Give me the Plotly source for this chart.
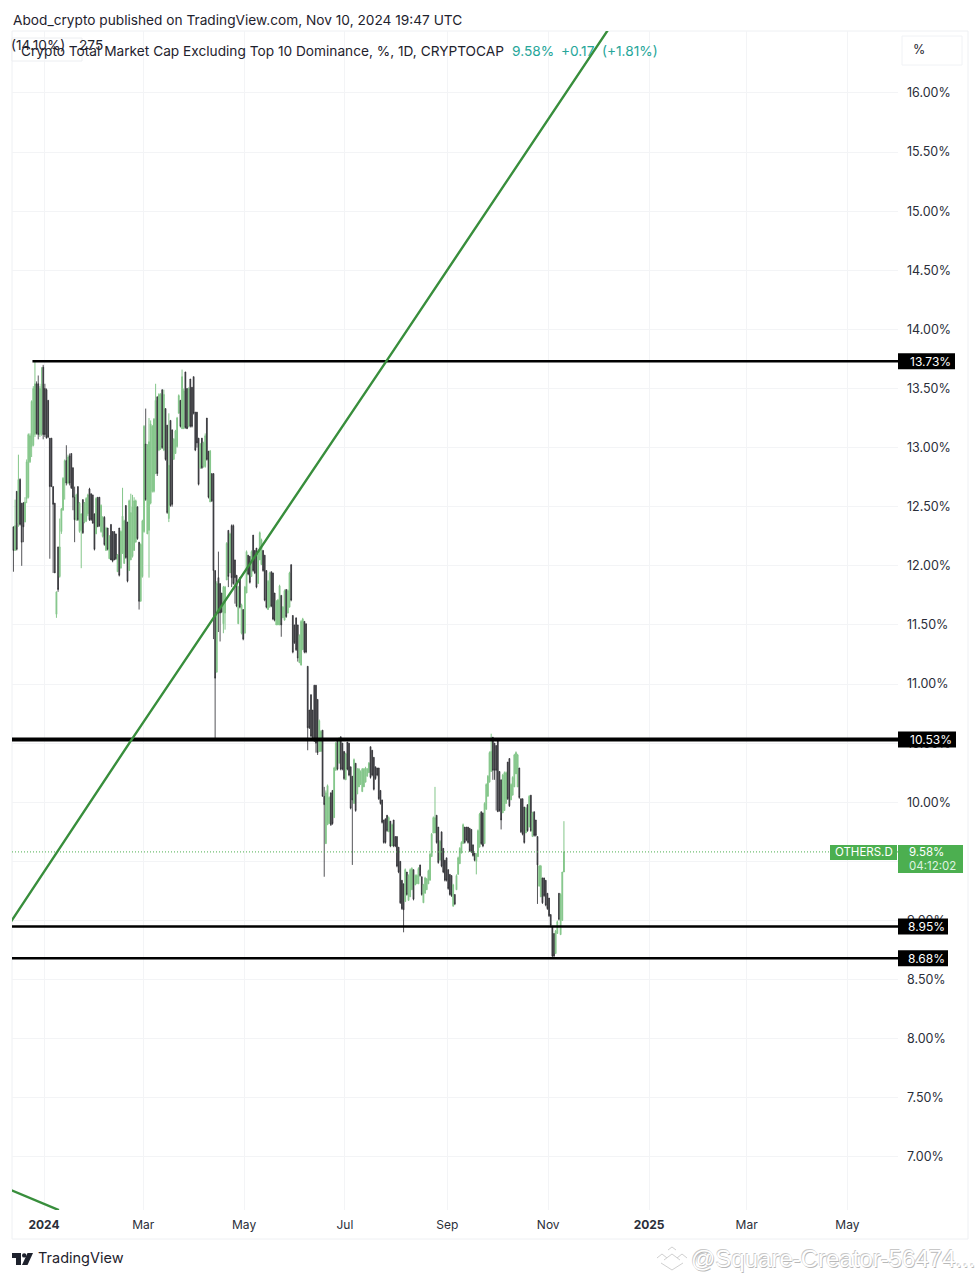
import pandas as pd
import plotly.graph_objects as go

# Daily OTHERS.D candles (percent), one value per day from first_day onwards
first_day = "2023-12-13 12:00"

opens = [
    12.33,12.13,12.63,12.36,12.73,12.53,12.53,12.37,12.57,12.58,
    12.88,13.01,13.02,13.11,13.54,13.54,13.11,13.12,13.68,13.50,
    13.49,13.40,13.08,13.08,12.67,12.53,11.59,12.16,11.91,12.29,
    12.47,12.70,12.89,12.70,12.93,12.95,12.83,12.58,12.39,12.67,
    12.29,12.30,12.56,12.37,12.38,12.44,12.65,12.61,12.60,12.44,
    12.27,12.58,12.58,12.29,12.25,12.41,12.13,12.32,12.06,12.35,
    12.29,12.29,12.27,11.95,12.32,11.98,12.11,12.02,12.51,12.37,
    11.96,12.05,12.08,12.13,12.20,12.50,12.20,11.70,11.91,12.29,
    13.03,12.27,12.30,12.53,12.63,12.63,12.78,13.43,12.98,12.99,
    13.49,12.98,13.33,13.19,12.40,13.23,13.15,12.90,12.95,13.01,
    13.29,13.40,13.16,13.16,13.64,13.50,13.18,13.58,13.51,13.60,
    13.30,13.30,13.08,12.83,13.08,12.84,12.84,13.25,12.97,12.54,
    12.78,12.78,11.96,11.10,11.90,11.85,11.77,11.51,11.60,11.88,
    12.30,11.94,12.34,12.34,12.05,11.92,11.51,11.90,11.43,11.63,
    11.43,11.77,12.09,12.08,11.91,12.26,12.13,12.15,11.85,12.05,
    12.01,12.13,12.09,11.96,11.63,11.65,11.95,11.94,11.77,11.50,
    11.50,11.50,11.75,11.56,11.54,11.80,11.60,11.65,12.01,11.58,
    11.50,11.56,11.50,11.18,11.16,11.29,11.53,11.51,11.15,10.78,
    10.91,10.78,10.99,10.99,10.87,10.43,10.43,10.61,10.05,9.65,
    9.81,9.82,10.08,10.10,9.87,10.27,10.52,10.33,10.55,10.50,
    10.43,10.19,10.51,10.50,10.30,10.22,9.99,10.33,10.07,10.13,
    10.15,10.09,10.13,10.17,10.22,10.25,10.47,10.44,10.38,10.30,
    10.29,10.29,10.10,10.02,9.85,9.86,9.89,9.75,9.84,9.63,
    9.85,9.71,9.71,9.62,9.50,9.34,9.31,9.16,9.41,9.17,
    9.20,9.26,9.43,9.30,9.31,9.31,9.47,9.37,9.15,9.23,
    9.26,9.31,9.34,9.54,9.74,9.74,9.89,9.79,9.51,9.75,
    9.61,9.51,9.53,9.43,9.39,9.38,9.12,9.22,9.26,9.39,
    9.48,9.57,9.65,9.79,9.79,9.79,9.78,9.77,9.64,9.57,
    9.50,9.54,9.62,9.92,9.91,9.65,9.94,10.05,10.17,10.26,
    10.55,10.50,10.48,10.52,10.26,10.19,9.91,9.93,9.99,10.34,
    10.37,10.02,10.06,10.13,10.24,10.13,10.29,10.03,10.03,9.96,
    9.74,9.98,9.79,10.06,9.71,9.92,9.85,9.71,9.29,9.20,
    9.36,9.36,9.34,9.23,9.19,9.05,8.95,8.89,8.72,8.89,
    9.23,8.88,9.00,9.41,
]
highs = [
    12.33,12.56,12.63,12.94,12.74,12.53,12.54,12.58,12.90,13.12,
    13.12,13.40,13.52,13.73,13.56,13.61,13.52,13.68,13.70,13.54,
    13.50,13.40,13.08,13.08,12.67,12.53,11.78,12.16,12.40,12.49,
    12.75,12.90,13.02,12.94,12.95,12.95,12.83,12.67,12.61,12.67,
    12.54,12.44,12.56,12.54,12.58,12.61,12.66,12.61,12.60,12.44,
    12.58,12.58,12.58,12.52,12.42,12.42,12.33,12.32,12.26,12.35,
    12.29,12.29,12.27,12.10,12.32,12.30,12.66,12.39,12.51,12.37,
    12.56,12.61,12.60,12.58,12.56,12.50,12.20,12.19,12.39,13.19,
    13.33,13.03,13.25,13.23,13.19,13.25,13.54,13.43,13.46,13.46,
    13.49,13.49,13.33,13.19,13.29,13.23,13.15,13.08,13.15,13.26,
    13.45,13.40,13.66,13.50,13.64,13.50,13.51,13.58,13.51,13.60,
    13.30,13.30,13.08,13.04,13.08,13.05,13.12,13.25,12.97,12.98,
    12.78,12.78,11.96,11.87,12.12,11.85,11.77,11.83,11.83,12.20,
    12.30,12.28,12.35,12.35,12.05,11.92,11.83,11.90,11.68,11.63,
    11.83,12.13,12.09,12.08,12.13,12.26,12.13,12.15,12.11,12.29,
    12.23,12.13,12.09,11.96,11.88,11.95,11.95,11.94,11.77,11.71,
    11.72,11.84,11.75,11.66,11.80,11.80,11.80,11.95,12.01,11.58,
    11.50,11.56,11.50,11.42,11.54,11.56,11.53,11.51,11.15,10.78,
    10.91,10.78,10.99,10.99,10.87,10.70,10.61,10.61,10.13,10.10,
    10.15,10.05,10.08,10.10,10.30,10.51,10.52,10.55,10.56,10.50,
    10.43,10.42,10.51,10.50,10.30,10.22,10.37,10.33,10.29,10.29,
    10.27,10.29,10.29,10.30,10.29,10.34,10.47,10.44,10.38,10.30,
    10.29,10.29,10.10,10.02,9.85,9.86,9.89,9.88,9.84,9.82,
    9.85,9.71,9.71,9.62,9.50,9.34,9.31,9.44,9.41,9.39,
    9.44,9.45,9.43,9.39,9.39,9.45,9.47,9.37,9.31,9.37,
    9.36,9.43,9.57,9.74,9.88,10.13,9.89,9.79,9.68,9.75,
    9.61,9.51,9.53,9.43,9.39,9.38,9.31,9.22,9.39,9.54,
    9.62,9.67,9.82,9.79,9.79,9.79,9.78,9.77,9.64,9.57,
    9.57,9.77,9.91,9.92,9.91,10.00,10.16,10.23,10.43,10.58,
    10.55,10.50,10.48,10.53,10.26,10.19,10.24,10.26,10.26,10.34,
    10.37,10.16,10.22,10.41,10.43,10.41,10.29,10.03,10.03,9.96,
    9.96,9.98,10.06,10.06,9.92,9.92,9.85,9.71,9.47,9.47,
    9.36,9.36,9.34,9.23,9.19,9.05,8.95,8.89,8.92,9.00,
    9.23,9.23,9.41,9.84,
]
lows = [
    11.95,12.13,12.13,12.33,12.34,12.00,12.20,12.37,12.53,12.57,
    12.87,12.92,13.01,13.09,13.11,13.07,13.09,13.10,13.07,13.09,
    13.08,13.08,12.06,12.67,11.94,11.94,11.56,11.78,11.90,12.27,
    12.47,12.56,12.68,12.69,12.68,12.65,12.47,12.20,12.38,12.38,
    12.28,11.98,12.27,12.36,12.37,12.42,12.38,12.38,12.36,12.13,
    12.27,12.33,12.33,12.28,12.24,12.17,12.13,12.13,12.06,12.05,
    12.03,12.05,12.05,11.95,11.91,11.98,12.10,12.02,12.06,11.86,
    11.96,12.05,12.07,12.13,12.20,12.22,11.63,11.70,11.90,12.28,
    12.55,12.27,11.90,12.52,12.62,12.62,12.78,12.76,12.97,12.98,
    12.99,12.97,12.89,12.44,12.37,12.50,12.50,12.90,12.95,13.00,
    13.29,13.17,13.16,13.16,13.16,13.16,13.17,13.17,13.17,13.28,
    12.97,13.00,12.68,12.82,12.82,12.83,12.83,12.89,12.57,12.54,
    12.54,11.38,10.53,11.10,11.44,11.36,11.60,11.43,11.46,11.88,
    11.82,11.94,11.82,11.84,11.68,11.65,11.51,11.64,11.42,11.37,
    11.43,11.77,11.92,11.85,11.91,11.95,11.93,11.81,11.85,12.05,
    12.01,11.95,11.70,11.64,11.63,11.65,11.65,11.54,11.53,11.50,
    11.50,11.50,11.40,11.56,11.54,11.56,11.60,11.65,11.70,11.26,
    11.34,11.28,11.19,11.18,11.16,11.29,11.26,11.26,10.44,10.62,
    10.55,10.52,10.51,10.42,10.40,10.43,10.43,10.05,9.37,9.65,
    9.81,9.82,9.80,9.81,9.87,10.27,10.27,10.33,10.27,10.27,
    10.19,10.19,10.27,10.22,9.94,9.47,9.99,9.92,10.07,10.13,
    10.15,10.09,10.13,10.17,10.22,10.25,10.20,10.22,10.10,10.19,
    10.22,10.02,9.98,9.82,9.65,9.65,9.75,9.75,9.62,9.63,
    9.62,9.62,9.45,9.40,9.14,9.09,8.90,9.16,9.21,9.17,
    9.20,9.26,9.17,9.30,9.31,9.31,9.37,9.21,9.15,9.23,
    9.26,9.31,9.34,9.54,9.74,9.74,9.65,9.48,9.51,9.45,
    9.40,9.33,9.33,9.26,9.21,9.20,9.12,9.13,9.26,9.39,
    9.48,9.57,9.65,9.65,9.67,9.65,9.58,9.57,9.54,9.50,
    9.39,9.54,9.62,9.64,9.62,9.65,9.94,10.05,10.17,10.26,
    10.19,10.19,9.93,9.92,9.92,9.77,9.91,9.93,9.99,10.02,
    9.96,10.02,10.06,10.13,10.24,10.13,10.03,9.74,9.72,9.65,
    9.74,9.75,9.79,9.75,9.71,9.71,9.71,9.14,9.29,9.20,
    9.14,9.20,9.12,9.09,9.03,8.95,8.68,8.68,8.72,8.89,
    9.00,8.88,9.00,9.41,
]
closes = [
    12.13,12.34,12.14,12.73,12.35,12.20,12.33,12.54,12.88,13.11,
    13.10,13.39,13.50,13.54,13.12,13.11,13.50,13.54,13.11,13.11,
    13.08,13.09,12.67,12.67,12.52,11.94,11.78,11.80,12.16,12.48,
    12.74,12.89,12.70,12.92,12.70,12.66,12.58,12.39,12.60,12.39,
    12.53,12.44,12.28,12.53,12.57,12.60,12.39,12.39,12.36,12.14,
    12.57,12.33,12.34,12.51,12.41,12.18,12.32,12.14,12.25,12.05,
    12.04,12.05,12.06,12.09,11.92,12.29,12.42,12.38,12.07,11.87,
    12.55,12.45,12.50,12.55,12.55,12.23,11.70,12.18,12.38,13.18,
    12.56,13.02,13.05,13.20,13.18,13.24,13.40,12.78,13.45,13.45,
    13.00,13.45,12.90,12.45,12.85,12.51,12.52,13.07,13.14,13.25,
    13.44,13.18,13.60,13.48,13.17,13.16,13.50,13.18,13.18,13.29,
    12.98,13.04,12.69,13.03,12.83,13.04,13.10,12.90,12.58,12.97,
    12.55,11.96,11.05,11.85,11.60,11.60,11.61,11.82,11.82,12.19,
    11.91,12.27,11.90,11.85,11.90,11.66,11.82,11.65,11.67,11.38,
    11.82,12.12,11.93,11.86,12.12,11.96,11.94,11.82,12.10,12.28,
    12.22,11.96,11.71,11.65,11.87,11.94,11.66,11.55,11.54,11.70,
    11.71,11.83,11.50,11.65,11.79,11.57,11.79,11.94,11.71,11.27,
    11.35,11.29,11.22,11.41,11.53,11.55,11.27,11.27,10.63,10.63,
    10.56,10.53,10.52,10.50,10.42,10.69,10.60,10.05,9.98,10.08,
    10.14,10.04,9.81,9.82,10.29,10.50,10.28,10.54,10.28,10.28,
    10.20,10.41,10.28,10.23,9.95,10.02,10.36,9.93,10.28,10.28,
    10.26,10.28,10.28,10.29,10.28,10.33,10.21,10.23,10.11,10.20,
    10.23,10.03,9.99,9.83,9.66,9.66,9.76,9.87,9.63,9.81,
    9.63,9.63,9.46,9.41,9.15,9.10,9.09,9.43,9.22,9.38,
    9.43,9.44,9.18,9.38,9.38,9.44,9.38,9.22,9.30,9.36,
    9.35,9.42,9.56,9.73,9.87,9.87,9.66,9.49,9.67,9.46,
    9.41,9.34,9.34,9.27,9.22,9.21,9.30,9.14,9.38,9.53,
    9.61,9.66,9.81,9.66,9.68,9.66,9.59,9.58,9.55,9.51,
    9.56,9.76,9.90,9.65,9.63,9.99,10.15,10.22,10.42,10.43,
    10.27,10.27,10.27,9.92,9.93,9.85,10.23,10.25,10.25,10.03,
    9.97,10.15,10.21,10.40,10.42,10.40,10.04,9.75,9.73,9.66,
    9.95,9.76,10.05,9.76,9.91,9.72,9.72,9.47,9.46,9.46,
    9.15,9.21,9.13,9.10,9.04,8.96,8.70,8.70,8.91,8.99,
    9.01,9.22,9.41,9.58,
]
assert len(opens) == len(highs) == len(lows) == len(closes)

# Axis ticks
price_ticks = [7, 7.5, 8, 8.5, 9, 9.5, 10, 10.5, 11, 11.5, 12, 12.5, 13, 13.5, 14, 14.5, 15, 15.5, 16]
date_ticks = ["2024-01-01", "2024-03-01", "2024-05-01", "2024-07-01", "2024-09-01",
              "2024-11-01", "2025-01-01", "2025-03-01", "2025-05-01"]
date_labels = ["<b>2024</b>", "Mar", "May", "Jul", "Sep", "Nov", "<b>2025</b>", "Mar", "May"]

# Drawn levels: value, first date, line width, label box width
level_values = [13.73, 10.53, 8.95, 8.68]
level_starts = ["2023-12-25", "2023-12-12", "2023-12-12", "2023-12-12"]
level_widths = [2.5, 4, 2.5, 2.5]
level_boxes = [57, 58, 50, 50]

# Trend lines drawn across the chart
rising_dates = ["2023-12-12", "2024-02-23", "2024-07-26", "2024-12-07"]
rising_values = [8.99, 10.53, 13.73, 16.53]
falling_dates = ["2023-12-12", "2024-01-10"]
falling_values = [6.72, 6.55]

last_price = 9.58
x_range = ["2023-12-12 15:00", "2025-05-31 14:00"]
y_range = [6.551, 16.524]

# Plot area in page pixels
LEFT, RIGHT, TOP, BOTTOM = 12, 898, 31, 1210
UI_FONT = "Inter, Liberation Sans, sans-serif"
TEXT = "#1e222d"
GRID = "#f3f4f6"


def px(x):
    return (x - LEFT) / (RIGHT - LEFT)


def py(y):
    return (BOTTOM - y) / (BOTTOM - TOP)


def label(x, y, text, size=13, color=TEXT, anchor="left"):
    return dict(xref="paper", yref="paper", x=px(x), y=py(y), text=text, showarrow=False,
                xanchor=anchor, yanchor="middle", borderpad=0,
                font=dict(family=UI_FONT, size=size, color=color))


def path_shape(points, fill=None, line=None, width=1):
    d = "".join(("M" if i == 0 else "L") + f"{px(a):.5f},{py(b):.5f} " for i, (a, b) in enumerate(points))
    if fill:
        d += "Z"
    return dict(type="path", xref="paper", yref="paper", path=d, fillcolor=fill,
                line=dict(color=line or "rgba(0,0,0,0)", width=width))


days = pd.date_range(first_day, periods=len(closes), freq="D")

fig = go.Figure()
fig.add_trace(go.Candlestick(
    x=days, open=opens, high=highs, low=lows, close=closes,
    increasing=dict(line=dict(color="#84c68a", width=1), fillcolor="#84c68a"),
    decreasing=dict(line=dict(color="#2a2a2e", width=0.8), fillcolor="#55555a"),
    hoverinfo="skip", showlegend=False,
))

# Last price marker line
fig.add_trace(go.Scatter(
    x=[x_range[0], x_range[1]], y=[last_price, last_price], mode="lines",
    line=dict(color="#4caf50", width=1, dash="1px 2px"), hoverinfo="skip", showlegend=False,
))

for value, start, width in zip(level_values, level_starts, level_widths):
    fig.add_trace(go.Scatter(
        x=[start, x_range[1]], y=[value, value], mode="lines",
        line=dict(color="#000000", width=width), hoverinfo="skip", showlegend=False,
    ))

for xs, ys in [(rising_dates, rising_values), (falling_dates, falling_values)]:
    fig.add_trace(go.Scatter(
        x=xs, y=ys, mode="lines", line=dict(color="#388e3c", width=2.4),
        hoverinfo="skip", showlegend=False,
    ))

shapes = [
    # Chart frame and scale button
    dict(type="rect", xref="paper", yref="paper", x0=px(12), x1=px(968), y0=py(1239), y1=py(31),
         line=dict(color="#eef0f3", width=1), fillcolor="rgba(0,0,0,0)", layer="below"),
    dict(type="rect", xref="paper", yref="paper", x0=px(902), x1=px(962), y0=py(65), y1=py(36),
         line=dict(color="#f0f2f5", width=1), fillcolor="#ffffff"),
    # Pill behind the overlapping tag at the top left
    dict(type="rect", xref="paper", yref="paper", x0=px(12), x1=px(82), y0=py(61), y1=py(38),
         line=dict(color="#eceef1", width=1), fillcolor="#ffffff", layer="below"),
    # Symbol tag and last price box
    dict(type="rect", xref="paper", yref="paper", x0=px(830), x1=px(897), y0=py(860), y1=py(845),
         line=dict(width=0), fillcolor="#4caf50"),
    dict(type="rect", xref="paper", yref="paper", x0=px(898), x1=px(963), y0=py(873), y1=py(845),
         line=dict(width=0), fillcolor="#4caf50"),
]
# Black value tags on the price scale
for value, box in zip(level_values, level_boxes):
    shapes.append(dict(type="rect", xref="paper", yref="y", x0=px(898), x1=px(898 + box),
                       ysizemode="pixel", yanchor=value, y0=-8, y1=8,
                       line=dict(width=0), fillcolor="#000000"))

# TradingView mark
shapes.append(path_shape([(12, 1253), (21, 1253), (21, 1265), (16, 1265), (16, 1258), (12, 1258)], fill=TEXT))
shapes.append(path_shape([(33, 1253), (27.5, 1265), (22, 1265), (27.5, 1253)], fill=TEXT))
shapes.append(dict(type="circle", xref="paper", yref="paper", x0=px(22), x1=px(26.4),
                   y0=py(1257.6), y1=py(1253.2), fillcolor=TEXT, line=dict(width=0)))
# Diamond mark beside the handle
for pts in ([(657, 1258), (662, 1254), (667, 1258)], [(668, 1250), (672, 1247), (676, 1250)],
            [(677, 1258), (682, 1254), (687, 1258)], [(664, 1260), (672, 1254), (680, 1260)],
            [(661, 1263), (672, 1270), (683, 1263)]):
    shapes.append(path_shape(pts, line="#d0d0d0", width=1))

annotations = [
    label(11.5, 20, "Abod_crypto published on TradingView.com, Nov 10, 2024 19:47 UTC", size=13.7),
    label(10, 45, "(14.10%)", size=13.7),
    label(78, 45, "275", size=13.7),
    label(20, 51, "Crypto Total Market Cap Excluding Top 10 Dominance, %, 1D, CRYPTOCAP", size=13.7),
    label(511, 51, "9.58%", size=13.7, color="#26a69a"),
    label(560, 51, "+0.17", size=13.7, color="#26a69a"),
    label(601, 51, "(+1.81%)", size=13.7, color="#26a69a"),
    label(912, 50, "%", size=12.5),
    label(834, 852, "OTHERS.D", size=11.5, color="#ffffff"),
    label(908, 852, "9.58%", size=11.5, color="#ffffff"),
    label(908, 866, "04:12:02", size=11.5, color="#dff3e0"),
    label(37, 1258, "TradingView", size=14.5),
]
# Handle text, pale letters with a soft grey edge
annotations.append(dict(xref="paper", yref="paper", x=px(690), y=py(1258), text="@Square-Creator-56474...",
                        showarrow=False, xanchor="left", yanchor="middle", borderpad=0,
                        font=dict(family="Liberation Sans, sans-serif", size=24, color="#ffffff",
                                  shadow="0.7px 0.7px 0 #b8b8b8, -0.7px -0.7px 0 #c8c8c8")))
for value, text_x in zip(level_values, [909, 909, 907, 907]):
    annotations.append(dict(xref="paper", yref="y", x=px(text_x), y=value, text=f"{value:.2f}%",
                            showarrow=False, xanchor="left", yanchor="middle", borderpad=0,
                            font=dict(family=UI_FONT, size=12, color="#ffffff")))

fig.update_layout(
    width=980, height=1280, autosize=False,
    margin=dict(l=LEFT, r=980 - RIGHT, t=TOP, b=1280 - BOTTOM, pad=0),
    paper_bgcolor="#ffffff", plot_bgcolor="#ffffff",
    font=dict(family=UI_FONT, color=TEXT),
    showlegend=False, hovermode=False,
    shapes=shapes, annotations=annotations,
    xaxis=dict(
        type="date", range=x_range, rangeslider=dict(visible=False), showline=False, zeroline=False,
        tickmode="array", tickvals=date_ticks, ticktext=date_labels, ticks="",
        tickfont=dict(family=UI_FONT, size=12, color="#2a2e39"), ticklabelstandoff=6,
        showgrid=True, gridcolor=GRID, gridwidth=1,
    ),
    yaxis=dict(
        range=y_range, side="right", showline=False, zeroline=False,
        tickmode="array", tickvals=price_ticks, ticktext=[f"{v:.2f}%" for v in price_ticks], ticks="",
        tickfont=dict(family=UI_FONT, size=12.5, color="#2a2e39"), ticklabelstandoff=8,
        showgrid=True, gridcolor=GRID, gridwidth=1,
    ),
)

fig.write_html("out.html", config=dict(displayModeBar=False))
